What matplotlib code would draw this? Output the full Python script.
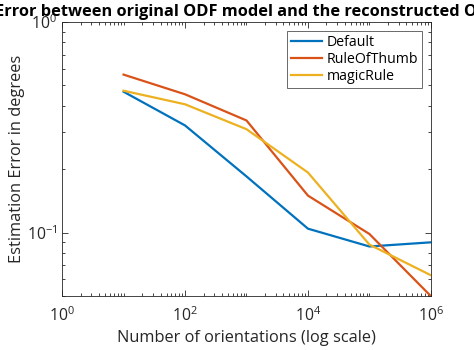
import numpy as np
import matplotlib
matplotlib.use("Agg")
import matplotlib.pyplot as plt
from matplotlib.ticker import LogLocator, NullFormatter

# ==========================================================
# DATA
# ==========================================================

n_orientations = [1e1, 1e2, 1e3, 1e4, 1e5, 1e6]

err_default = [0.467, 0.323, 0.185, 0.1045, 0.086, 0.090]
err_rule_of_thumb = [0.563, 0.454, 0.341, 0.150, 0.0986, 0.050]
err_magic_rule = [0.472, 0.407, 0.310, 0.193, 0.0878, 0.0628]

series_names = ["Default", "RuleOfThumb", "magicRule"]
series_colors = ["#0072BD", "#D95319", "#EDB120"]

# ==========================================================
# PLOT
# ==========================================================

plt.rcParams["font.family"] = ["Open Sans", "DejaVu Sans"]
axis_grey = "#262626"

fig = plt.figure(figsize=(4.74, 3.5), dpi=100)
ax = fig.add_axes([0.131, 0.154, 0.778, 0.783])

for vals, name, col in zip(
    [err_default, err_rule_of_thumb, err_magic_rule],
    series_names,
    series_colors
):
    ax.plot(n_orientations, vals, color=col, linewidth=1.6, label=name)

ax.set_xscale("log")
ax.set_yscale("log")
ax.set_xlim(1, 1e6)
ax.set_ylim(0.05, 1)

ax.xaxis.set_major_locator(LogLocator(base=100))
ax.xaxis.set_minor_locator(LogLocator(base=10, subs=np.arange(1, 10), numticks=20))
ax.xaxis.set_minor_formatter(NullFormatter())
ax.yaxis.set_major_locator(LogLocator(base=10))
ax.yaxis.set_minor_locator(LogLocator(base=10, subs=np.arange(2, 10), numticks=20))
ax.yaxis.set_minor_formatter(NullFormatter())

ax.tick_params(which="both", direction="in", top=True, right=True,
               colors=axis_grey, labelsize=11.3, width=0.6)
ax.tick_params(which="major", length=4)
ax.tick_params(which="minor", length=2)
ax.tick_params(axis="x", which="major", pad=7)
for s in ax.spines.values():
    s.set_color(axis_grey)
    s.set_linewidth(0.6)

ax.set_xlabel("Number of orientations (log scale)", fontsize=11.8,
              color=axis_grey, labelpad=4)
ax.set_ylabel("Estimation Error in degrees", fontsize=11.8,
              color=axis_grey, labelpad=1)
ax.set_title("Error between original ODF model and the reconstructed ODF",
             fontsize=11.8, fontweight="bold", color="black", pad=4)

leg = ax.legend(loc="upper right", fontsize=10.2, frameon=True, fancybox=False,
                borderpad=0.3, labelspacing=0.15, handlelength=2.2,
                handletextpad=0.3, borderaxespad=0.6)
leg.get_frame().set_edgecolor(axis_grey)
leg.get_frame().set_linewidth(0.6)

fig.savefig("out.png", dpi=100)
